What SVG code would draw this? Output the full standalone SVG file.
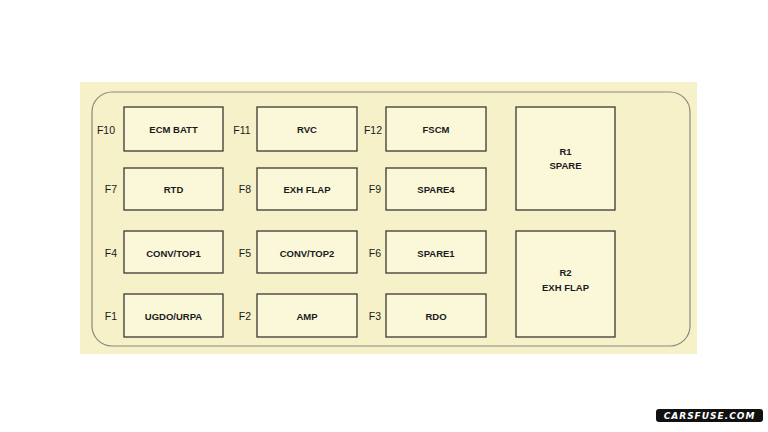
<svg xmlns="http://www.w3.org/2000/svg" width="768" height="432" viewBox="0 0 768 432">
<style>
.fuse{fill:#fbf8da;stroke:#3a3a32;stroke-width:1.3}
.lbl{font-family:"Liberation Sans",Arial,sans-serif;font-size:9.5px;font-weight:bold;fill:#1a1a1a;text-anchor:middle}
.num{font-family:"Liberation Sans",Arial,sans-serif;font-size:10.5px;fill:#1a1a1a;text-anchor:middle}
</style>
<rect width="768" height="432" fill="#ffffff"/>
<rect x="80" y="82" width="617" height="272" fill="#f6f1c9"/>
<rect x="92" y="92" width="598" height="254" rx="20" fill="none" stroke="#8a8a80" stroke-width="1.2"/>
<g id="F10"><rect class="fuse" x="124" y="107" width="99" height="44"/><text class="num" x="106" y="134">F10</text><text class="lbl" x="173.5" y="133">ECM BATT</text></g>
<g id="F11"><rect class="fuse" x="257" y="107" width="100" height="44"/><text class="num" x="242" y="134">F11</text><text class="lbl" x="307" y="133">RVC</text></g>
<g id="F12"><rect class="fuse" x="386" y="107" width="100" height="44"/><text class="num" x="373" y="134">F12</text><text class="lbl" x="436" y="133">FSCM</text></g>
<g id="F7"><rect class="fuse" x="124" y="168" width="99" height="42"/><text class="num" x="111" y="193">F7</text><text class="lbl" x="173.5" y="192.5">RTD</text></g>
<g id="F8"><rect class="fuse" x="257" y="168" width="100" height="42"/><text class="num" x="245" y="193">F8</text><text class="lbl" x="307" y="192.5">EXH FLAP</text></g>
<g id="F9"><rect class="fuse" x="386" y="168" width="100" height="42"/><text class="num" x="375" y="193">F9</text><text class="lbl" x="436" y="192.5">SPARE4</text></g>
<g id="F4"><rect class="fuse" x="124" y="231" width="99" height="42"/><text class="num" x="111" y="257">F4</text><text class="lbl" x="173.5" y="256.5">CONV/TOP1</text></g>
<g id="F5"><rect class="fuse" x="257" y="231" width="100" height="42"/><text class="num" x="245" y="257">F5</text><text class="lbl" x="307" y="256.5">CONV/TOP2</text></g>
<g id="F6"><rect class="fuse" x="386" y="231" width="100" height="42"/><text class="num" x="375" y="257">F6</text><text class="lbl" x="436" y="256.5">SPARE1</text></g>
<g id="F1"><rect class="fuse" x="124" y="294" width="99" height="43"/><text class="num" x="111" y="320">F1</text><text class="lbl" x="173.5" y="319.5">UGDO/URPA</text></g>
<g id="F2"><rect class="fuse" x="257" y="294" width="100" height="43"/><text class="num" x="245" y="320">F2</text><text class="lbl" x="307" y="319.5">AMP</text></g>
<g id="F3"><rect class="fuse" x="386" y="294" width="100" height="43"/><text class="num" x="375" y="320">F3</text><text class="lbl" x="436" y="319.5">RDO</text></g>
<g id="R1"><rect class="fuse" x="516" y="107" width="99" height="103"/><text class="lbl" x="565.5" y="155">R1</text><text class="lbl" x="565.5" y="169">SPARE</text></g>
<g id="R2"><rect class="fuse" x="516" y="231" width="99" height="106"/><text class="lbl" x="565.5" y="276">R2</text><text class="lbl" x="565.5" y="291">EXH FLAP</text></g>
<g id="connectors"></g>
<g id="watermark"><rect x="656" y="409" width="107" height="13" rx="3" fill="#111111"/><text x="709.5" y="419" font-family="DejaVu Sans,sans-serif" font-size="9px" font-weight="bold" font-style="italic" fill="#ffffff" text-anchor="middle" letter-spacing="1">CARSFUSE.COM</text></g>
</svg>
